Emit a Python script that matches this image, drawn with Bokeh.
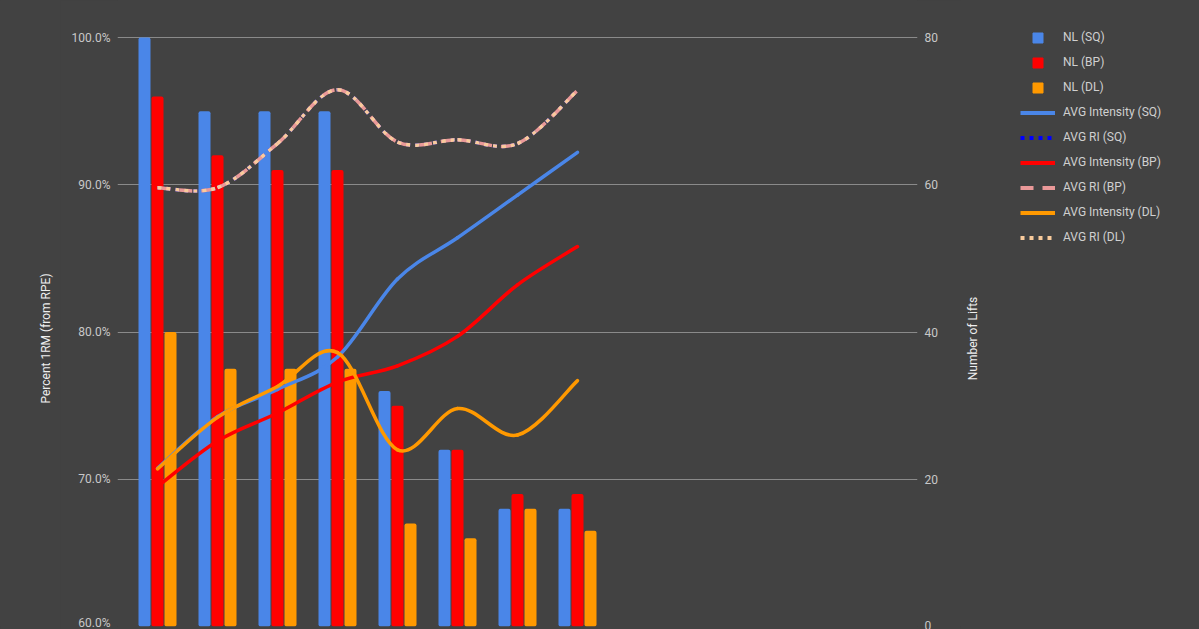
import math
from bokeh.plotting import figure
from bokeh.layouts import row
from bokeh.models import (Range1d, LinearAxis, FixedTicker, PrintfTickFormatter,
                          Legend, LegendItem, ColumnDataSource, Label)
from bokeh.transform import dodge
from bokeh.embed import file_html
from bokeh.resources import INLINE

# ---------------- data ----------------
weeks = [1, 2, 3, 4, 5, 6, 7, 8]
nl_sq = [80, 70, 70, 70, 32, 24, 16, 16]
nl_bp = [72, 64, 62, 62, 30, 24, 18, 18]
nl_dl = [40, 35, 35, 35, 14, 12, 16, 13]
avg_int_sq = [70.75, 74.25, 76.1, 78.3, 83.6, 86.4, 89.3, 92.2]
avg_int_bp = [69.5, 72.6, 74.5, 76.6, 77.7, 79.7, 83.2, 85.8]
avg_int_dl = [70.7, 74.2, 76.3, 78.6, 72.0, 74.8, 73.0, 76.7]
avg_ri_sq = [89.8, 89.8, 92.8, 96.45, 92.9, 93.05, 92.8, 96.4]
avg_ri_bp = [89.8, 89.8, 92.8, 96.45, 92.9, 93.05, 92.8, 96.4]
avg_ri_dl = [89.8, 89.8, 92.8, 96.45, 92.9, 93.05, 92.8, 96.4]
pct_ticks = [60, 70, 80, 90, 100]
lift_ticks = [0, 20, 40, 60, 80]
left_title = "Percent 1RM (from RPE)"
right_title = "Number of Lifts"

# ---------------- style ----------------
BG = "#424242"
C_SQ = "#4a86e8"
C_BP = "#ff0000"
C_DL = "#ff9900"
C_RI_SQ = "#0000ff"
C_RI_BP = "#ea9999"
C_RI_DL = "#f9cb9c"
FONT = "Roboto"
TITLE_COLOR = "#eeeeee"

H = 629
RW = 60              # left strip (left axis title)
PX1 = 960            # right edge of the main plot figure
PW = PX1 - RW        # main figure width
QW = 1199 - PX1      # right strip (right axis title + legend)
FL, FR = 117, 917    # frame left / right (page pixels)
Y100, Y60 = 37, 626  # rows of the 100% (80 lifts) and 60% (0 lifts) lines
TITLE_CY = 338       # vertical centre of the axis titles

pct_lo, pct_hi = min(pct_ticks), max(pct_ticks)
lift_lo, lift_hi = min(lift_ticks), max(lift_ticks)
pct_pad = Y100 * (pct_hi - pct_lo) / (Y60 - Y100)
lift_pad = Y100 * (lift_hi - lift_lo) / (Y60 - Y100)


def strip(width):
    f = figure(width=width, height=H, output_backend="svg", toolbar_location=None,
               title_location=None, x_range=Range1d(0, 1), y_range=Range1d(0, 1),
               x_axis_location=None, y_axis_location=None,
               background_fill_color=BG, border_fill_color=BG,
               outline_line_color=None, min_border=0)
    f.grid.visible = False
    return f


# ---------------- main plot ----------------
p = figure(width=PW, height=H, output_backend="svg", toolbar_location=None,
           x_range=Range1d(1 - 40 / 60, 1 - 40 / 60 + (FR - FL) / 60),
           y_range=Range1d(pct_lo, pct_hi + pct_pad), x_axis_location=None,
           background_fill_color=BG, border_fill_color=BG, outline_line_color=None,
           min_border_left=FL - RW, min_border_right=PX1 - FR, min_border_top=0,
           min_border_bottom=H - Y60)
p.extra_y_ranges = {"lifts": Range1d(lift_lo, lift_hi + lift_pad)}

p.xgrid.visible = False
p.ygrid.grid_line_color = "#8a8a8a"
p.ygrid.grid_line_width = 1
p.ygrid.ticker = FixedTicker(ticks=pct_ticks)


def style_axis(ax):
    ax.axis_line_color = None
    ax.major_tick_line_color = None
    ax.minor_tick_line_color = None
    ax.major_tick_out = 0
    ax.major_tick_in = 0
    ax.minor_tick_out = 0
    ax.minor_tick_in = 0
    ax.major_label_standoff = 7
    ax.major_label_text_font = FONT
    ax.major_label_text_font_size = "12px"
    ax.major_label_text_color = "#c8c8c8"


yl = p.yaxis[0]
yl.ticker = FixedTicker(ticks=pct_ticks)
yl.formatter = PrintfTickFormatter(format="%.1f%%")
style_axis(yl)

yr = LinearAxis(y_range_name="lifts", ticker=FixedTicker(ticks=lift_ticks))
style_axis(yr)
p.add_layout(yr, "right")

# bars
bars = ColumnDataSource(dict(week=weeks, sq=nl_sq, bp=nl_bp, dl=nl_dl))
bw = 0.2
off = 13 / 60
for col, shift, color in (("sq", -off, C_SQ), ("bp", 0.0, C_BP), ("dl", off, C_DL)):
    p.vbar(x=dodge("week", shift, range=p.x_range), top=col, bottom=0, width=bw,
           source=bars, y_range_name="lifts", fill_color=color, line_color=None,
           border_radius=2)


# smooth lines (bezier segments through the data points)
def bezier_source(xs, ys):
    n = len(xs)
    d = dict(x0=[], y0=[], x1=[], y1=[], cx0=[], cy0=[], cx1=[], cy1=[])
    for i in range(n - 1):
        im, ip = max(i - 1, 0), min(i + 2, n - 1)
        d["x0"].append(xs[i]); d["y0"].append(ys[i])
        d["x1"].append(xs[i + 1]); d["y1"].append(ys[i + 1])
        d["cx0"].append(xs[i] + (xs[i + 1] - xs[im]) / 6)
        d["cy0"].append(ys[i] + (ys[i + 1] - ys[im]) / 6)
        d["cx1"].append(xs[i + 1] - (xs[ip] - xs[i]) / 6)
        d["cy1"].append(ys[i + 1] - (ys[ip] - ys[i]) / 6)
    return ColumnDataSource(d)


LW = 3.5
series = [
    (avg_int_sq, C_SQ, "solid", "round"),
    (avg_ri_sq, C_RI_SQ, "4 5", "butt"),
    (avg_int_bp, C_BP, "solid", "round"),
    (avg_ri_bp, C_RI_BP, "13 9", "butt"),
    (avg_int_dl, C_DL, "solid", "round"),
    (avg_ri_dl, C_RI_DL, "4 5", "butt"),
]
for ys, color, dash, cap in series:
    p.bezier(x0="x0", y0="y0", x1="x1", y1="y1", cx0="cx0", cy0="cy0",
             cx1="cx1", cy1="cy1", source=bezier_source(weeks, ys),
             line_color=color, line_width=LW, line_dash=dash, line_cap=cap)

# ---------------- left strip: left axis title ----------------
r = strip(RW)
r.add_layout(Label(x=45, y=Y60 - TITLE_CY, x_units="screen", y_units="screen",
                   text=left_title, angle=math.pi / 2, text_align="center",
                   text_baseline="middle", text_font=FONT, text_font_size="12px",
                   text_color=TITLE_COLOR))

# ---------------- right strip: right axis title + legend ----------------
q = strip(QW)
q.add_layout(Label(x=972 - PX1, y=Y60 - TITLE_CY, x_units="screen", y_units="screen",
                   text=right_title, angle=math.pi / 2, text_align="center",
                   text_baseline="middle", text_font=FONT, text_font_size="12px",
                   text_color=TITLE_COLOR))
NAN = float("nan")


def proxy_sq(color):
    return q.scatter(x=[NAN], y=[NAN], marker="square", size=12,
                     fill_color=color, line_color=color)


def proxy_line(color, dash):
    return q.line(x=[NAN, NAN], y=[NAN, NAN], line_color=color, line_width=4,
                  line_dash=dash)


items = [
    LegendItem(label="NL (SQ)", renderers=[proxy_sq(C_SQ)]),
    LegendItem(label="NL (BP)", renderers=[proxy_sq(C_BP)]),
    LegendItem(label="NL (DL)", renderers=[proxy_sq(C_DL)]),
    LegendItem(label="AVG Intensity (SQ)", renderers=[proxy_line(C_SQ, "solid")]),
    LegendItem(label="AVG RI (SQ)", renderers=[proxy_line(C_RI_SQ, "4 5")]),
    LegendItem(label="AVG Intensity (BP)", renderers=[proxy_line(C_BP, "solid")]),
    LegendItem(label="AVG RI (BP)", renderers=[proxy_line(C_RI_BP, "13 9")]),
    LegendItem(label="AVG Intensity (DL)", renderers=[proxy_line(C_DL, "solid")]),
    LegendItem(label="AVG RI (DL)", renderers=[proxy_line(C_RI_DL, "4 5")]),
]
ITEM_H = 25
leg_h = len(items) * ITEM_H
leg_top = Y100 - ITEM_H / 2
legend = Legend(items=items, location=(1020 - PX1, Y60 - leg_top - leg_h),
                orientation="vertical",
                glyph_width=35, glyph_height=ITEM_H, label_height=ITEM_H, spacing=0,
                padding=0, margin=0, label_standoff=8, background_fill_alpha=0,
                border_line_alpha=0, label_text_font=FONT,
                label_text_font_size="12px", label_text_color="#d0d0d0")
q.add_layout(legend)

layout = row(r, p, q, spacing=0)
html = file_html(layout, INLINE)
html = html.replace("<head>", "<head><style>html, body { background: #424242; }</style>", 1)
open("out.html", "w").write(html)
